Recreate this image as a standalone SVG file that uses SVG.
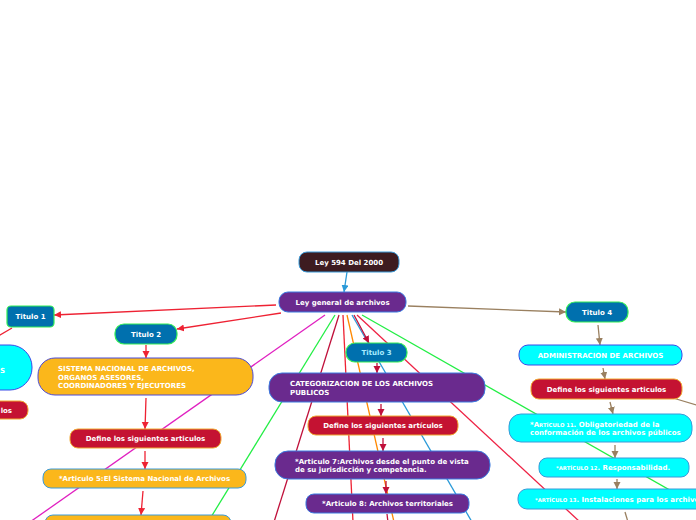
<svg xmlns="http://www.w3.org/2000/svg" width="696" height="520" viewBox="0 0 696 520">
<style>
.t{font-family:"DejaVu Sans",Verdana,sans-serif;font-weight:bold;font-size:7px;fill:#fff}
.c{text-anchor:middle}
.sc{font-size:5.3px}
.ln{fill:none;stroke-width:1.3}
.tit{fill:#0070ae;stroke:#33ee55;stroke-width:1.2}
.pur{fill:#6a2a8e;stroke:#3a7ae0;stroke-width:1}
.org{fill:#fbb71b;stroke:#4a4ad8;stroke-width:1}
.orgb{fill:#fbb71b;stroke:#3a9ad8;stroke-width:1}
.crm{fill:#c41232;stroke:#f0a830;stroke-width:1}
.cya{fill:#00ffff;stroke:#3a4ae8;stroke-width:1}
.cyb{fill:#00ffff;stroke:#3a9ad8;stroke-width:1}
</style>
<defs>
<marker id="aR" markerUnits="userSpaceOnUse" markerWidth="8" markerHeight="8" refX="7" refY="3.5" orient="auto"><path d="M0,0 L7,3.5 L0,7 z" fill="#ee2233"/></marker>
<marker id="aC" markerUnits="userSpaceOnUse" markerWidth="8" markerHeight="8" refX="7" refY="3.5" orient="auto"><path d="M0,0 L7,3.5 L0,7 z" fill="#c0103a"/></marker>
<marker id="aB" markerUnits="userSpaceOnUse" markerWidth="8" markerHeight="8" refX="7" refY="3.5" orient="auto"><path d="M0,0 L7,3.5 L0,7 z" fill="#9a8060"/></marker>
<marker id="aL" markerUnits="userSpaceOnUse" markerWidth="8" markerHeight="8" refX="7" refY="3.5" orient="auto"><path d="M0,0 L7,3.5 L0,7 z" fill="#2a9ad8"/></marker>
</defs>
<rect width="696" height="520" fill="#fff"/>
<g id="connectors">
<line class="ln" x1="325" y1="315" x2="30" y2="522" stroke="#e020c0"/>
<line class="ln" x1="335" y1="315" x2="208" y2="522" stroke="#22ee44"/>
<line class="ln" x1="339" y1="315" x2="274" y2="522" stroke="#c0103a"/>
<line class="ln" x1="343" y1="315" x2="353" y2="522" stroke="#ee2233"/>
<line class="ln" x1="347" y1="315" x2="394" y2="522" stroke="#ff8800"/>
<line class="ln" x1="352" y1="315" x2="472" y2="522" stroke="#2a9ad8"/>
<line class="ln" x1="357" y1="315" x2="580" y2="522" stroke="#ee2244"/>
<line class="ln" x1="362" y1="315" x2="710" y2="513" stroke="#22ee44"/>
<line class="ln" x1="354" y1="315" x2="369" y2="343" stroke="#c0103a" marker-end="url(#aC)"/>
<line class="ln" x1="347" y1="272" x2="344" y2="292" stroke="#2a9ad8" marker-end="url(#aL)"/>
<line class="ln" x1="276" y1="305" x2="54" y2="315" stroke="#ee2233" marker-end="url(#aR)"/>
<line class="ln" x1="281" y1="313" x2="177" y2="329" stroke="#ee2233" marker-end="url(#aR)"/>
<line class="ln" x1="408" y1="306" x2="566" y2="312" stroke="#9a8060" marker-end="url(#aB)"/>
<line class="ln" x1="12" y1="328" x2="-5" y2="338" stroke="#ee2233"/>
<line class="ln" x1="146" y1="345" x2="146" y2="358" stroke="#ee2233" marker-end="url(#aR)"/>
<line class="ln" x1="146" y1="398" x2="145" y2="429" stroke="#ee2233" marker-end="url(#aR)"/>
<line class="ln" x1="145" y1="451" x2="145" y2="469" stroke="#ee2233" marker-end="url(#aR)"/>
<line class="ln" x1="143" y1="491" x2="141" y2="515" stroke="#ee2233" marker-end="url(#aR)"/>
<line class="ln" x1="377" y1="363" x2="377" y2="373" stroke="#c0103a" marker-end="url(#aC)"/>
<line class="ln" x1="381" y1="404" x2="381" y2="416" stroke="#c0103a" marker-end="url(#aC)"/>
<line class="ln" x1="383" y1="438" x2="383" y2="451" stroke="#c0103a" marker-end="url(#aC)"/>
<line class="ln" x1="386" y1="481" x2="386" y2="494" stroke="#c0103a" marker-end="url(#aC)"/>
<line class="ln" x1="387" y1="514" x2="388" y2="522" stroke="#c0103a"/>
<line class="ln" x1="598" y1="325" x2="600" y2="345" stroke="#9a8060" marker-end="url(#aB)"/>
<line class="ln" x1="603" y1="368" x2="605" y2="379" stroke="#9a8060" marker-end="url(#aB)"/>
<line class="ln" x1="610" y1="402" x2="613" y2="414" stroke="#9a8060" marker-end="url(#aB)"/>
<line class="ln" x1="615" y1="445" x2="615" y2="458" stroke="#9a8060" marker-end="url(#aB)"/>
<line class="ln" x1="617" y1="479" x2="617" y2="489" stroke="#9a8060" marker-end="url(#aB)"/>
<line class="ln" x1="625" y1="512" x2="628" y2="522" stroke="#9a8060"/>
<line class="ln" x1="673" y1="398" x2="700" y2="406" stroke="#9a8060"/>
</g>
<g id="ley594"><rect x="299" y="252" width="100" height="20" rx="8" fill="#3d1c20" stroke="#3a9ad8"/><text class="t c" x="349" y="264.5">Ley 594 Del 2000</text></g>
<g id="leygeneral"><rect class="pur" x="279" y="292" width="127" height="20" rx="9"/><text class="t c" x="342.5" y="304.5">Ley general de archivos</text></g>
<g id="titulo1"><rect class="tit" x="7" y="306" width="47" height="21" rx="4"/><text class="t c" x="30.5" y="319">Titulo 1</text></g>
<g id="left-cyan"><rect class="cya" x="-40" y="345" width="72" height="45" rx="22"/><text class="t" x="0" y="373">S</text></g>
<g id="left-define"><rect class="crm" x="-40" y="401" width="68" height="18" rx="8"/><text class="t" x="12" y="413" text-anchor="end">los</text></g>
<g id="titulo2"><rect class="tit" x="115" y="324" width="62" height="20" rx="9"/><text class="t c" x="146" y="336.5">Titulo 2</text></g>
<g id="sistema"><rect class="org" x="38" y="358" width="215" height="37" rx="17"/><text class="t" x="58" y="371">SISTEMA NACIONAL DE ARCHIVOS,</text><text class="t" x="58" y="379.5">ORGANOS ASESORES,</text><text class="t" x="58" y="388">COORDINADORES Y EJECUTORES</text></g>
<g id="define2"><rect class="crm" x="70" y="429" width="151" height="19" rx="8"/><text class="t c" x="145.5" y="441">Define los siguientes articulos</text></g>
<g id="art5"><rect class="orgb" x="43" y="469" width="203" height="19" rx="8"/><text class="t c" x="144.5" y="481">*Articulo 5:El Sistema Nacional de Archivos</text></g>
<g id="art-left-bottom"><rect class="orgb" x="45" y="515" width="186" height="22" rx="8"/></g>
<g id="titulo3"><rect class="tit" x="346" y="343" width="61" height="19" rx="9"/><text class="t c" x="376.5" y="355" style="fill:#a8ecff">Titulo 3</text></g>
<g id="categorizacion"><rect class="pur" x="269" y="373" width="216" height="29" rx="13"/><text class="t" x="290" y="386">CATEGORIZACION DE LOS ARCHIVOS</text><text class="t" x="290" y="395">PUBLICOS</text></g>
<g id="define3"><rect class="crm" x="308" y="416" width="150" height="19" rx="8"/><text class="t c" x="383" y="428">Define los siguientes artículos</text></g>
<g id="art7"><rect class="pur" x="275" y="451" width="215" height="28" rx="13"/><text class="t" x="295" y="463.5">*Articulo 7:Archivos desde el punto de vista</text><text class="t" x="295" y="472">de su jurisdicción y competencia.</text></g>
<g id="art8"><rect class="pur" x="306" y="494" width="163" height="19" rx="8"/><text class="t c" x="387.5" y="506">*Articulo 8: Archivos territoriales</text></g>
<g id="titulo4"><rect class="tit" x="566" y="302" width="62" height="20" rx="9"/><text class="t c" x="597" y="314.5">Titulo 4</text></g>
<g id="administracion"><rect class="cya" x="519" y="345" width="163" height="20" rx="9"/><text class="t c" x="600.5" y="357.5">ADMINISTRACION DE ARCHIVOS</text></g>
<g id="define4"><rect class="crm" x="531" y="379" width="151" height="20" rx="8"/><text class="t c" x="606.5" y="391.5">Define los siguientes articulos</text></g>
<g id="art11"><rect class="cyb" x="509" y="414" width="183" height="28" rx="12"/><text class="t" x="530" y="426.5">*A<tspan class="sc">RTÍCULO 11</tspan>. Obligatoriedad de la</text><text class="t" x="530" y="435">conformación de los archivos públicos</text></g>
<g id="art12"><rect class="cyb" x="539" y="458" width="150" height="19" rx="8"/><text class="t" x="556" y="470"><tspan class="sc">*ARTÍCULO 12</tspan>. Responsabilidad.</text></g>
<g id="art13"><rect class="cyb" x="518" y="489" width="200" height="20" rx="9"/><text class="t" x="535" y="501.5"><tspan class="sc">*ARTÍCULO 13</tspan>. Instalaciones para los archivos</text></g>
</svg>
